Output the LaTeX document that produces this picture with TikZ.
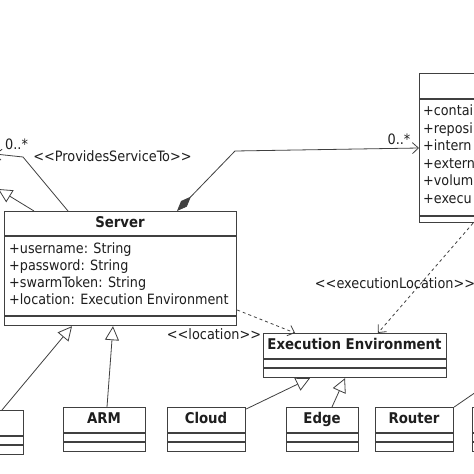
\documentclass[tikz,border=0pt]{standalone}
\usepackage{fontspec}
\setmainfont{DejaVu Sans Condensed}
\usetikzlibrary{arrows.meta}
\definecolor{lc}{HTML}{404040}
\definecolor{tc}{HTML}{1E1E1E}
\begin{document}
\begin{tikzpicture}[x=1pt,y=-1pt,
  box/.style={draw=lc, line width=1.2pt, anchor=north west, inner sep=0pt, fill=white},
  sep/.style={draw=lc, line width=1.2pt},
  ttl/.style={font=\fontsize{14.8}{14}\selectfont\bfseries, text=tc, inner sep=0pt, text height=10.5pt, text depth=3pt},
  attr/.style={font=\fontsize{14.2}{15}\selectfont, text=tc, anchor=west, inner sep=0pt, text height=10pt, text depth=3pt},
  lab/.style={font=\fontsize{14.3}{15}\selectfont, text=tc, inner sep=0pt, text height=10pt, text depth=3pt},
  conn/.style={draw=lc, line width=0.8pt},
  gen/.style={conn, -{Triangle[open, length=14pt, width=14pt, fill=white, line width=0.8pt]}},
  assoc/.style={conn, -{Straight Barb[length=6pt, width=11pt, line width=0.8pt]}},
  comp/.style={conn, {Diamond[length=20pt, width=8pt]}-{Straight Barb[length=6pt, width=11pt, line width=0.8pt]}},
  dep/.style={assoc, dash pattern=on 3pt off 3pt},
]
\useasboundingbox[fill=white] (0,0) rectangle (474,474);

% ---------- Server ----------
\node[box, minimum width=232pt, minimum height=114pt] (server) at (4,211) {};
\draw[sep] (4,236) -- (236,236);
\draw[sep] (4,316) -- (236,316);
\node[ttl] (servert) at (120,224) {Server};
\node[attr] (sa1) at (9,250) {+username: String};
\node[attr] (sa2) at (9,267) {+password: String};
\node[attr] (sa3) at (9,284) {+swarmToken: String};
\node[attr] (sa4) at (9,301) {+location: Execution Environment};

% ---------- top right class ----------
\node[box, minimum width=150pt, minimum height=149pt] (cont) at (419,73) {};
\draw[sep] (419,99) -- (569,99);
\draw[sep] (419,216) -- (569,216);
\node[attr] (ca1) at (423,112) {+contai};
\node[attr] (ca2) at (423,130) {+reposi};
\node[attr] (ca3) at (423,147) {+intern};
\node[attr] (ca4) at (423,165) {+extern};
\node[attr] (ca5) at (423,182) {+volum};
\node[attr] (ca6) at (423,200) {+execu};

% ---------- Execution Environment ----------
\node[box, minimum width=183pt, minimum height=44pt] (ee) at (263,333) {};
\draw[sep] (263,359) -- (446,359);
\draw[sep] (263,368) -- (446,368);
\node[ttl] (eet) at (354.5,346) {Execution Environment};

% ---------- bottom row ----------
\node[box, minimum width=83pt, minimum height=44pt] (lft) at (-60,410) {};
\draw[sep] (-60,436) -- (23,436);
\draw[sep] (-60,445) -- (23,445);

\node[box, minimum width=82pt, minimum height=44pt] (arm) at (63,407) {};
\draw[sep] (63,433) -- (145,433);
\draw[sep] (63,442) -- (145,442);
\node[ttl] (armt) at (104,420) {ARM};

\node[box, minimum width=78pt, minimum height=44pt] (cloud) at (167,407) {};
\draw[sep] (167,433) -- (245,433);
\draw[sep] (167,442) -- (245,442);
\node[ttl] (cloudt) at (206,420) {Cloud};

\node[box, minimum width=72pt, minimum height=44pt] (edge) at (286,407) {};
\draw[sep] (286,433) -- (358,433);
\draw[sep] (286,442) -- (358,442);
\node[ttl] (edget) at (322,420) {Edge};

\node[box, minimum width=78pt, minimum height=44pt] (router) at (375,407) {};
\draw[sep] (375,433) -- (453,433);
\draw[sep] (375,442) -- (453,442);
\node[ttl] (routert) at (414,420) {Router};

\node[box, minimum width=80pt, minimum height=44pt] (rgt) at (472,407) {};
\draw[sep] (472,433) -- (552,433);
\draw[sep] (472,442) -- (552,442);

% ---------- connectors ----------
\coordinate (pst) at (-5,154);
\coordinate (sup) at (-2,189);
\coordinate (off) at (492,381);

\draw[comp] ([xshift=173pt]server.north west) -- (235,151) -- (cont.west |- 0,148);
\draw[assoc] ([xshift=64pt]server.north west) -- (23,157) -- (pst);
\draw[gen] ([xshift=30pt]server.north west) -- (sup);
\draw[dep] (server.east |- 0,310) -- ([xshift=32pt]ee.north west);
\draw[dep] ([xshift=54pt]cont.south west) -- ([xshift=115pt]ee.north west);

\draw[gen] ([xshift=62pt]lft.north west) -- ([xshift=68pt]server.south west);
\draw[gen] ([xshift=44pt]arm.north west) -- ([xshift=109pt]server.south west);
\draw[gen] ([yshift=-2pt]cloud.north east) -- ([xshift=47pt]ee.south west);
\draw[gen] ([xshift=46pt]edge.north west) -- ([xshift=82pt]ee.south west);
\draw[conn] (router.north east) -- (off);

% ---------- labels ----------
\node[lab] (l1) at (112.5,158) {<{}<ProvidesServiceTo>{}>};
\node[lab, anchor=west] (l2) at (5,146) {0..*};
\node[lab] (l3) at (399,141) {0..*};
\node[lab] (l4) at (214,336) {<{}<location>{}>};
\node[lab] (l5) at (395,285) {<{}<executionLocation>{}>};
\end{tikzpicture}
\end{document}
